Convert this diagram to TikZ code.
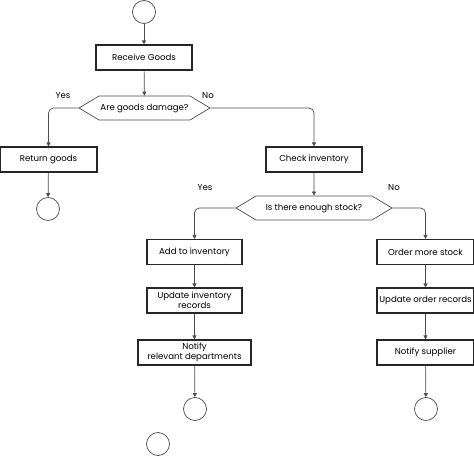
\documentclass[tikz,border=0pt]{standalone}
\usepackage{fontspec}
\setmainfont{Poppins}
\usetikzlibrary{shapes.geometric,shapes.symbols,arrows.meta}
\begin{document}
\begin{tikzpicture}[x=1pt,y=-1pt,
  box/.style={draw=black!85,line width=1.1pt,minimum height=25pt,inner sep=1pt,align=center,font=\fontsize{8.6}{10.5}\selectfont},
  dec/.style={draw=black!70,line width=0.7pt,shape=signal,signal to=east and west,signal pointer angle=62,minimum height=24pt,inner sep=1pt,font=\fontsize{8.6}{10.5}\selectfont},
  term/.style={draw=black!70,line width=0.7pt,circle,minimum size=23pt,inner sep=0pt},
  lbl/.style={font=\fontsize{8.6}{10.5}\selectfont},
  conn/.style={draw=black!70,line width=0.7pt,-{Triangle[length=4pt,width=4pt]},rounded corners=5pt}]
\useasboundingbox (0,0) rectangle (474,457);
\node[term] (s) at (144,12) {};
\node[box,minimum width=96pt] (rg) at (144,57.5) {Receive Goods};
\node[dec,minimum width=131pt] (d1) at (144.5,108) {Are goods damage?};
\node[box,minimum width=97pt] (ret) at (48.5,159.5) {Return goods};
\node[term] (e1) at (48,209) {};
\node[box,minimum width=96pt] (ci) at (314,159.5) {Check inventory};
\node[dec,minimum width=156pt] (d2) at (314,208) {Is there enough stock?};
\node[box,minimum width=95pt] (ai) at (194.5,252) {Add to inventory};
\node[box,minimum width=95pt] (ui) at (194.5,300.5) {Update inventory\\records};
\node[box,minimum width=113pt] (nr) at (194.5,352.5) {Notify\\relevant departments};
\node[term] (e2) at (195,409) {};
\node[term] (e3) at (158,444) {};
\node[box,minimum width=97pt] (om) at (425.5,252) {Order more stock};
\node[box,minimum width=97pt] (uo) at (425.5,300.5) {Update order records};
\node[box,minimum width=97pt] (ns) at (425.5,352.5) {Notify supplier};
\node[term] (e4) at (426,409) {};
\node[lbl] (y1) at (63,96) {Yes};
\node[lbl] (n1) at (208,96) {No};
\node[lbl] (y2) at (205,188) {Yes};
\node[lbl] (n2) at (394,188) {No};
\draw[conn] (s) -- (rg);
\draw[conn] (rg) -- (d1);
\draw[conn] (d1.west) -| (ret.north);
\draw[conn] (d1.east) -| (ci.north);
\draw[conn] (ret) -- (e1);
\draw[conn] (ci) -- (d2);
\draw[conn] (d2.west) -| (ai.north);
\draw[conn] (d2.east) -| (om.north);
\draw[conn] (ai) -- (ui);
\draw[conn] (ui) -- (nr);
\draw[conn] (nr) -- (e2);
\draw[conn] (om) -- (uo);
\draw[conn] (uo) -- (ns);
\draw[conn] (ns) -- (e4);
\end{tikzpicture}
\end{document}
